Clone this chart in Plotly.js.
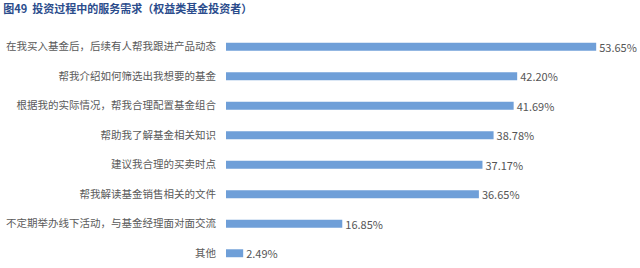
<!DOCTYPE html>
<html><head><meta charset="utf-8">
<script src="https://cdn.plot.ly/plotly-3.0.1.min.js"></script>
<style>html,body{margin:0;padding:0;background:#fff}#c{width:640px;height:268px}</style>
</head><body><div id="c"></div>
<script>
const categories = [
  "在我买入基金后，后续有人帮我跟进产品动态",
  "帮我介绍如何筛选出我想要的基金",
  "根据我的实际情况，帮我合理配置基金组合",
  "帮助我了解基金相关知识",
  "建议我合理的买卖时点",
  "帮我解读基金销售相关的文件",
  "不定期举办线下活动，与基金经理面对面交流",
  "其他"
];
const values = [53.65, 42.20, 41.69, 38.78, 37.17, 36.65, 16.85, 2.49];
const labels = ["53.65%", "42.20%", "41.69%", "38.78%", "37.17%", "36.65%", "16.85%", "2.49%"];

const font = "'Noto Sans CJK SC', 'Noto Sans', sans-serif";
Plotly.newPlot('c', [{
  type: 'bar', orientation: 'h',
  x: values, y: categories,
  text: labels, textposition: 'outside', cliponaxis: false, constraintext: 'none',
  textfont: {family: font, size: 11, color: '#555555'},
  marker: {color: '#6f9fd8'},
  width: 0.27,
  hoverinfo: 'none'
}], {
  width: 640, height: 268,
  margin: {l: 226, r: 0, t: 32, b: 0},
  paper_bgcolor: '#fff', plot_bgcolor: '#fff',
  font: {family: font},
  uniformtext: {mode: false},
  title: {text: '<b>图49  投资过程中的服务需求（权益类基金投资者）</b>', x: 0.005, xanchor: 'left', y: 0.965, yanchor: 'middle',
    font: {family: font, size: 11, color: '#2b4c8c'}},
  xaxis: {range: [0, 60], visible: false, fixedrange: true},
  yaxis: {autorange: 'reversed', showline: false, showgrid: false, zeroline: false, ticks: '',
    ticklabelstandoff: 9,
    tickfont: {family: font, size: 10.5, color: '#5a5a5a'}},
  showlegend: false
}, {staticPlot: true});
</script></body></html>
